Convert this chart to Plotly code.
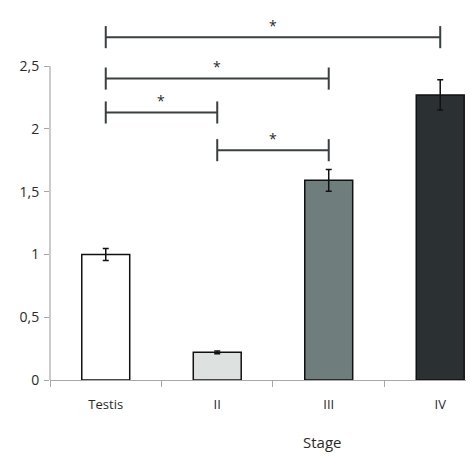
import plotly.graph_objects as go

categories = ["Testis", "II", "III", "IV"]
values = [1.0, 0.22, 1.59, 2.27]
errors = [0.048, 0.01, 0.087, 0.12]
bar_colors = ["#ffffff", "#dde1e0", "#6f7e7c", "#2b3133"]

y_tickvals = [0, 0.5, 1, 1.5, 2, 2.5]
y_ticktext = ["0", "0,5", "1", "1,5", "2", "2,5"]

bracket_from = ["Testis", "Testis", "Testis", "II"]
bracket_to = ["IV", "III", "II", "III"]
bracket_y = [2.73, 2.40, 2.13, 1.83]
bracket_label = ["*", "*", "*", "*"]

CAP = 0.088

fig = go.Figure()
fig.add_trace(go.Bar(
    x=categories, y=values, width=0.43,
    marker=dict(color=bar_colors, line=dict(color="#111111", width=1.5)),
    error_y=dict(type="data", array=errors, visible=True, color="#111111",
                 thickness=1.5, width=3),
    showlegend=False, hoverinfo="skip",
))

bx, by = [], []
for a, b, yv in zip(bracket_from, bracket_to, bracket_y):
    bx += [a, b, None, a, a, None, b, b, None]
    by += [yv, yv, None, yv - CAP, yv + CAP, None, yv - CAP, yv + CAP, None]
fig.add_trace(go.Scatter(x=bx, y=by, mode="lines",
                         line=dict(color="#3a3f40", width=2),
                         showlegend=False, hoverinfo="skip", cliponaxis=False))

for a, b, yv, lab in zip(bracket_from, bracket_to, bracket_y, bracket_label):
    mid = (categories.index(a) + categories.index(b)) / 2
    fig.add_annotation(x=mid, y=yv, text=lab, showarrow=False, yshift=12,
                       font=dict(family="Open Sans", size=14, color="#2a2a2a"))

fig.add_annotation(xref="paper", yref="paper", x=(322 - 50) / 424, y=-0.168,
                   text="Stage", showarrow=False, xanchor="center", yanchor="middle",
                   font=dict(family="Open Sans", size=15, color="#2a2a2a"))

# y-axis line only up to 2.5
fig.add_shape(type="line", xref="paper", yref="y", x0=0, x1=0,
              y0=0, y1=y_tickvals[-1], line=dict(color="#a8a8a8", width=1.2))

fig.update_layout(
    width=474, height=474,
    margin=dict(l=42, r=8, t=2, b=102),
    paper_bgcolor="white", plot_bgcolor="white",
    bargap=0.57,
    xaxis=dict(type="category", categoryorder="array", categoryarray=categories,
               range=[-0.5, 3.303], showline=True, linecolor="#a8a8a8", linewidth=1.2,
               ticks="outside", tickson="boundaries", ticklen=6, tickcolor="#a8a8a8",
               ticklabelstandoff=12,
               tickfont=dict(family="Open Sans", size=13, color="#2a2a2a"),
               showgrid=False, zeroline=False, automargin=False),
    yaxis=dict(range=[0, 2.946], tickvals=y_tickvals, ticktext=y_ticktext,
               showline=False, ticks="outside", ticklen=5, tickcolor="#a8a8a8",
               ticklabelstandoff=2,
               tickfont=dict(family="Open Sans", size=14, color="#2a2a2a"),
               showgrid=False, zeroline=False, automargin=False),
)

fig.write_html("out.html")
